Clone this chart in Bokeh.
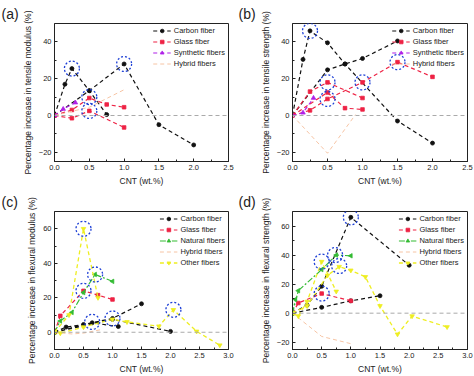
import numpy as np
from bokeh.plotting import figure
from bokeh.layouts import gridplot
from bokeh.models import (Span, Legend, LegendItem, ColumnDataSource, Title,
                          FixedTicker, NumeralTickFormatter)
from bokeh.embed import file_html
from bokeh.resources import INLINE

FONT = "Liberation Sans"

# ---------------- data (each inner list = one study, CNT wt.% vs % increase) -------------
# (a) tensile modulus
a_carbon_x = [[0, 0.15, 0.25, 0.5, 0.75], [0, 0.5, 1.0, 1.5, 2.0]]
a_carbon_y = [[0, 17, 25.5, 13.5, 0.5], [0, 13.5, 28, -5, -16]]
a_glass_x = [[0, 0.25, 0.5, 0.75, 1.0], [0, 0.25, 0.5, 1.0]]
a_glass_y = [[0, 3, 9.5, 6, 4.5], [0, -1.5, 2.5, -6.5]]
a_synth_x = [[0, 0.125, 0.3]]
a_synth_y = [[0, 3.5, 7]]
a_hybrid_x = [[0, 0.5, 1.0]]
a_hybrid_y = [[0, 4.5, 14]]
a_circle_x = [0.25, 0.5, 0.5, 1.0]
a_circle_y = [25.5, 10, 2.5, 28]

# (b) tensile strength
b_carbon_x = [[0, 0.15, 0.25, 0.5, 0.75, 1.5, 2.0], [0, 0.5, 0.75, 1.0, 1.5]]
b_carbon_y = [[0, 30.5, 46, 39.5, 28, -3, -15], [0, 24.8, 28, 31, 40.5]]
b_glass_x = [[0, 0.25, 0.5, 1.0], [0, 0.25, 0.5, 1.0, 1.5, 2.0], [0, 0.5, 0.75, 1.0]]
b_glass_y = [[0, 13, 18, 9.5], [0, 2.8, 9, 18, 29, 21], [0, 12.5, 4, 3.3]]
b_synth_x = [[0, 0.15, 0.3]]
b_synth_y = [[0, 1.5, 9.5]]
b_hybrid_x = [[0, 0.5, 0.9]]
b_hybrid_y = [[0, -20.5, 0.5]]
b_circle_x = [0.25, 0.5, 0.5, 1.0, 1.5]
b_circle_y = [46, 18, 9, 18, 29]

# (c) flexural modulus
c_carbon_x = [[0, 0.2, 0.5, 1.0, 1.5], [0, 0.65, 1.1], [0, 1.0, 2.0]]
c_carbon_y = [[0, 3, 4.5, 8, 16.5], [0, 5.5, 3.3], [0, 7.5, 0.5]]
c_glass_x = [[0, 0.1, 0.5, 0.75, 1.0]]
c_glass_y = [[0, 9.5, 24, 21.5, 19]]
c_natural_x = [[0, 0.1, 0.3, 0.5, 0.7, 1.0]]
c_natural_y = [[0, 6.5, 11.5, 23, 33.5, 29.5]]
c_hybrid_x = [[0, 0.3, 0.5, 0.8]]
c_hybrid_y = [[0, -1, -0.5, 1.5]]
c_other_x = [[0, 0.25, 0.5, 0.75], [0, 0.1, 0.5, 1.0, 1.25, 1.8, 2.05, 2.45, 2.85]]
c_other_y = [[0, 10, 60, 20], [0, -0.5, 3, 7.5, 6, 3.5, 13, 0.5, -7.5]]
c_circle_x = [0.5, 0.7, 0.5, 0.65, 1.0, 2.05]
c_circle_y = [60, 33.5, 24, 6, 8, 13]

# (d) flexural strength
d_carbon_x = [[0, 0.25, 0.5, 1.0, 2.0], [0, 0.5, 1.0, 1.5]]
d_carbon_y = [[0, 5.5, 18.5, 66, 33], [0, 4, 8.5, 12]]
d_glass_x = [[0, 0.1, 0.5, 1.0]]
d_glass_y = [[0, 7, 13.5, 8.5]]
d_natural_x = [[0, 0.1, 0.5, 0.75, 1.0], [0, 0.05]]
d_natural_y = [[0, 15.5, 30, 40, 39.5], [0, 9.5]]
d_hybrid_x = [[0, 0.25, 0.5, 1.0]]
d_hybrid_y = [[0, -8, -16, -21]]
d_other_x = [[0, 0.1, 0.25, 0.5, 0.75], [0, 0.25, 0.6, 0.8, 1.0, 1.25, 1.5, 1.8, 2.05, 2.65]]
d_other_y = [[0, -2, 8, 35.5, 15], [0, 5, 26, 32, 29.5, 25, 5, -14.5, -2, -9.5]]
d_circle_x = [1.0, 0.5, 0.73, 0.8, 0.5]
d_circle_y = [66, 35.5, 40, 32.5, 13.5]

# ---------------- styles -------------
STYLE = {
    "carbon": dict(label="Carbon fiber", color="#111111", dash="4 3", marker="circle", size=4.0, angle=0.0, width=1.2),
    "glass": dict(label="Glass fiber", color="#ee2244", dash="4 3", marker="square", size=3.6, angle=0.0, width=1.2),
    "synth": dict(label="Synthetic fibers", color="#b020e8", dash="4 3", marker="triangle", size=4.5, angle=0.0, width=1.2),
    "natural": dict(label="Natural fibers", color="#33bb33", dash="6 2 2 2", marker="triangle", size=4.5, angle=np.pi / 2, width=1.2),
    "hybrid": dict(label="Hybrid fibers", color="#f6c4a4", dash="4 3", marker=None, size=0, angle=0.0, width=1.0),
    "other": dict(label="Other fibers", color="#eeee22", dash="4 3", marker="inverted_triangle", size=4.5, angle=0.0, width=1.3),
}


def nanjoin(parts):
    out = []
    for i, s in enumerate(parts):
        if i:
            out.append(np.nan)
        out.extend(s)
    return np.array(out, dtype=float)


def make_panel(tag, series, circles, xmax, yr, xticks, yticks, yminor, ylabel,
               width, height, mbl, mbr, mbt, mbb):
    p = figure(width=width, height=height, x_range=(0, xmax), y_range=yr,
               output_backend="svg", toolbar_location=None,
               min_border_left=mbl, min_border_right=mbr,
               min_border_top=mbt, min_border_bottom=mbb)
    p.title = Title(text=tag, align="left", offset=-mbl + 1, standoff=4,
                    text_font=FONT, text_font_size="14px", text_font_style="normal",
                    text_color="#222222")
    p.xgrid.visible = False
    p.ygrid.visible = False
    p.outline_line_color = "#222222"
    p.outline_line_width = 1
    p.background_fill_color = "white"
    p.border_fill_color = "white"

    p.add_layout(Span(location=0, dimension="width", line_color="#aaaaaa",
                      line_dash="4 3", line_width=1))

    items = []
    for key, xs, ys in series:
        st = STYLE[key]
        src = ColumnDataSource(dict(x=nanjoin(xs), y=nanjoin(ys)))
        rl = p.line("x", "y", source=src, line_color=st["color"], line_dash=st["dash"],
                    line_width=st["width"])
        rends = [rl]
        if st["marker"]:
            rs = p.scatter("x", "y", source=src, marker=st["marker"], size=st["size"],
                           angle=st["angle"], fill_color=st["color"], line_color=st["color"],
                           line_width=0.8)
            rends.append(rs)
        items.append(LegendItem(label=st["label"], renderers=rends))

    cx, cy = circles
    p.scatter(cx, cy, marker="circle", size=15, fill_color=None, line_color="#1d3fd6",
              line_dash="2 2", line_width=1.3)

    lg = Legend(items=items, location="top_right")
    lg.label_text_font = FONT
    lg.label_text_font_size = "7.5px"
    lg.label_text_color = "#222222"
    lg.label_height = 9
    lg.glyph_height = 9
    lg.glyph_width = 18
    lg.label_standoff = 3
    lg.spacing = 2
    lg.padding = 1
    lg.margin = 2
    lg.background_fill_alpha = 0
    lg.border_line_alpha = 0
    p.add_layout(lg)

    minor_x = [v / 4 for v in range(0, int(round(xmax * 4)) + 1)]
    p.xaxis.ticker = FixedTicker(ticks=xticks, minor_ticks=minor_x)
    p.yaxis.ticker = FixedTicker(ticks=yticks, minor_ticks=yminor)
    p.xaxis.formatter = NumeralTickFormatter(format="0.0")
    for ax in (p.xaxis, p.yaxis):
        ax.major_tick_in = 3
        ax.major_tick_out = 0
        ax.minor_tick_in = 2
        ax.minor_tick_out = 0
        ax.axis_line_color = "#222222"
        ax.major_tick_line_color = "#222222"
        ax.minor_tick_line_color = "#222222"
        ax.major_label_text_font = FONT
        ax.major_label_text_font_size = "7.5px"
        ax.major_label_text_color = "#222222"
        ax.axis_label_text_font = FONT
        ax.axis_label_text_font_size = "8.5px"
        ax.axis_label_text_font_style = "normal"
        ax.axis_label_text_color = "#222222"
        ax.major_label_standoff = 3
        ax.axis_label_standoff = 3
    p.xaxis.axis_label = "CNT (wt.%)"
    p.yaxis.axis_label = ylabel
    return p


xt25 = [0, 0.5, 1.0, 1.5, 2.0, 2.5]
xt30 = [0, 0.5, 1.0, 1.5, 2.0, 2.5, 3.0]

pa = make_panel("(a)",
                [("carbon", a_carbon_x, a_carbon_y), ("glass", a_glass_x, a_glass_y),
                 ("synth", a_synth_x, a_synth_y), ("hybrid", a_hybrid_x, a_hybrid_y)],
                (a_circle_x, a_circle_y), 2.5, (-25, 50), xt25, [-20, 0, 20, 40],
                [-10, 10, 30], "Percentage increase in tensile modulus (%)",
                237, 188, 54, 9, 23, 26)
pb = make_panel("(b)",
                [("carbon", b_carbon_x, b_carbon_y), ("glass", b_glass_x, b_glass_y),
                 ("synth", b_synth_x, b_synth_y), ("hybrid", b_hybrid_x, b_hybrid_y)],
                (b_circle_x, b_circle_y), 2.5, (-25, 50), xt25, [-20, 0, 20, 40],
                [-10, 10, 30], "Percentage increase in tensile strength (%)",
                237, 188, 55, 7, 23, 26)
pc = make_panel("(c)",
                [("carbon", c_carbon_x, c_carbon_y), ("glass", c_glass_x, c_glass_y),
                 ("natural", c_natural_x, c_natural_y), ("hybrid", c_hybrid_x, c_hybrid_y),
                 ("other", c_other_x, c_other_y)],
                (c_circle_x, c_circle_y), 3.0, (-10, 70), xt30, [0, 20, 40, 60],
                [10, 30, 50], "Percentage increase in flexural modulus (%)",
                237, 188, 54, 9, 23, 26)
pd_ = make_panel("(d)",
                 [("carbon", d_carbon_x, d_carbon_y), ("glass", d_glass_x, d_glass_y),
                  ("natural", d_natural_x, d_natural_y), ("hybrid", d_hybrid_x, d_hybrid_y),
                  ("other", d_other_x, d_other_y)],
                 (d_circle_x, d_circle_y), 3.0, (-25, 70), xt30, [-20, 0, 20, 40, 60],
                 [-10, 10, 30, 50], "Percentage increase in flexural strength (%)",
                 237, 188, 55, 7, 23, 26)

layout = gridplot([[pa, pb], [pc, pd_]], toolbar_location=None)

open("out.html", "w").write(file_html(layout, INLINE))
